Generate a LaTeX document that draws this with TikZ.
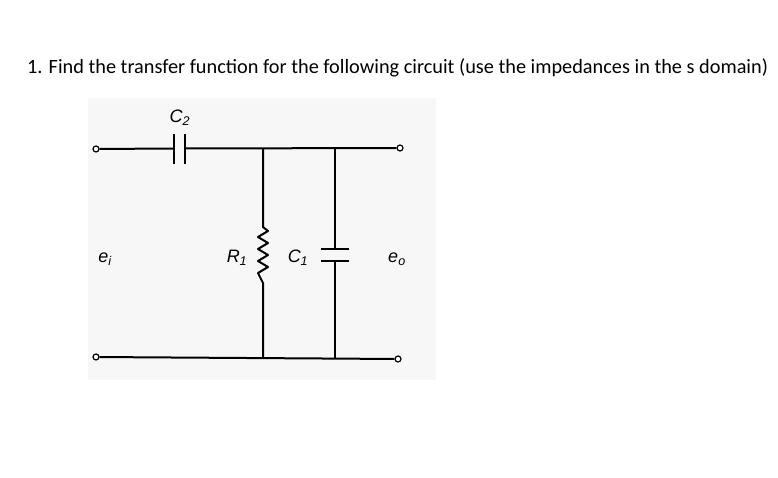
\documentclass[tikz,border=0pt]{standalone}
\usepackage{fontspec}
\setmainfont{Carlito}
\setsansfont{Liberation Sans}
\begin{document}
\begin{tikzpicture}[x=1pt,y=-1pt,
  wire/.style={line width=2pt},
  term/.style={circle,draw,line width=1.2pt,fill=white,inner sep=0pt,minimum size=6pt},
  lab/.style={font=\sffamily\itshape\fontsize{18}{18}\selectfont,inner sep=0pt}]
\useasboundingbox (0,0) rectangle (778,478);
\fill[black!3] (88,98) rectangle (436,380);
\node[anchor=west,inner sep=0pt,font=\fontsize{20.3}{22}\selectfont] (title) at (27,68) {1. Find the transfer function for the following circuit (use the impedances in the s domain)};
\node[term] (a) at (96,149) {};
\node[term] (b) at (400,148) {};
\node[term] (c) at (96,357) {};
\node[term] (d) at (398,359) {};
\coordinate (c2l) at (174,148.5);
\coordinate (c2r) at (185,148.5);
\coordinate (j1) at (263,148.5);
\coordinate (j2) at (335,148.5);
\coordinate (k1) at (263,358);
\coordinate (k2) at (335,358);
\coordinate (r1t) at (263,227);
\coordinate (r1b) at (263,283);
\coordinate (c1t) at (335,249);
\coordinate (c1b) at (335,261);
\draw[wire] (a) -- (c2l);
\draw[wire] (c2l) ++(0,-14) -- ++(0,30);
\draw[wire] (c2r) ++(0,-14) -- ++(0,30);
\draw[wire] (c2r) -- (b);
\draw[wire] (c) -- (d);
\draw[wire,line join=round] (j1) -- (r1t) -- ++(5,4) -- ++(-10,6) -- ++(10,6) -- ++(-10,6) -- ++(10,6) -- ++(-10,6) -- ++(10,6) -- ++(-10,6) -- (r1b) -- (k1);
\draw[wire] (j2) -- (c1t);
\draw[wire] (c1t) ++(-14,0) -- ++(28,0);
\draw[wire] (c1b) ++(-14,0) -- ++(28,0);
\draw[wire] (c1b) -- (k2);
\node[lab] (lc2) at (180,118) {C\textsubscript{2}};
\node[lab] (lei) at (105,259) {e\textsubscript{i}};
\node[lab] (lr1) at (237,258) {R\textsubscript{1}};
\node[lab] (lc1) at (298,258) {C\textsubscript{1}};
\node[lab] (leo) at (397,259) {e\textsubscript{o}};
\end{tikzpicture}
\end{document}
